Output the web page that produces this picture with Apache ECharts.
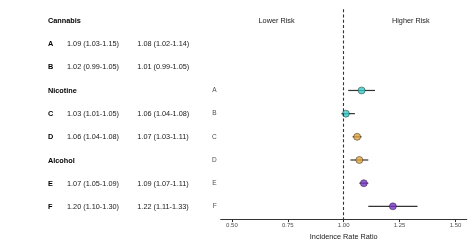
<!DOCTYPE html>
<html><head><meta charset="utf-8">
<script src="https://cdn.jsdelivr.net/npm/echarts@6/dist/echarts.min.js"></script>
<style>html,body{margin:0;padding:0;background:#fff}#c{width:474px;height:245px}</style>
</head><body><div id="c"></div>
<script>
const substances = ['Cannabis','Nicotine','Alcohol'];
const outcomes = ['A','B','C','D','E','F'];
const outcomeSubstance = ['Cannabis','Cannabis','Nicotine','Nicotine','Alcohol','Alcohol'];
const irr1 = [1.09,1.02,1.03,1.06,1.07,1.20];
const lo1  = [1.03,0.99,1.01,1.04,1.05,1.10];
const hi1  = [1.15,1.05,1.05,1.08,1.09,1.30];
const irr2 = [1.08,1.01,1.06,1.07,1.09,1.22];
const lo2  = [1.02,0.99,1.04,1.03,1.07,1.11];
const hi2  = [1.14,1.05,1.08,1.11,1.11,1.33];
const xTicks = [0.5,0.75,1.0,1.25,1.5];
const riskLabels = ['Lower Risk','Higher Risk'];
const riskX = [0.7,1.3];
const substanceColors = {Cannabis:'#34CBC4', Nicotine:'#E2A23A', Alcohol:'#7432C6'};

const FONT = 'Liberation Sans, Arial, sans-serif';
const fmt = v => v.toFixed(2);

const tableRows = [];
substances.forEach(s => {
  tableRows.push({type:'header', text:s});
  outcomes.forEach((o,i) => {
    if (outcomeSubstance[i] === s) tableRows.push({type:'row', letter:o,
      c1: fmt(irr1[i]) + ' (' + fmt(lo1[i]) + '-' + fmt(hi1[i]) + ')',
      c2: fmt(irr2[i]) + ' (' + fmt(lo2[i]) + '-' + fmt(hi2[i]) + ')'});
  });
});
const plotRowOffset = tableRows.length - outcomes.length;
const plotRow = outcomes.map((o,i) => i + 1 + plotRowOffset);

const chart = echarts.init(document.getElementById('c'), null, {renderer:'canvas'});
chart.setOption({
  animation:false,
  textStyle:{fontFamily:FONT},
  grid:[
    {left:0, width:210, top:9.35, bottom:25.2},
    {left:220.7, right:7.3, top:9.35, bottom:25.2}
  ],
  xAxis:[
    {gridIndex:0, type:'value', min:0, max:1, show:false},
    {gridIndex:1, type:'value', min:0.45, max:1.55,
     axisLine:{show:true, onZero:false, lineStyle:{color:'#333', width:1.1}},
     axisTick:{show:true, customValues:xTicks, length:3, lineStyle:{color:'#333'}},
     axisLabel:{customValues:xTicks, formatter:v=>v.toFixed(2), fontSize:6, color:'#4d4d4d', margin:3, fontFamily:FONT},
     splitLine:{show:false},
     name:'Incidence Rate Ratio', nameLocation:'middle', nameGap:12.5,
     nameTextStyle:{fontSize:7.3, color:'#1a1a1a', fontFamily:FONT}}
  ],
  yAxis:[
    {gridIndex:0, type:'value', inverse:true, min:0.5, max:9.55, show:false},
    {gridIndex:1, type:'value', inverse:true, min:0.5, max:9.55,
     axisLine:{show:false}, axisTick:{show:false}, splitLine:{show:false},
     axisLabel:{customValues:plotRow, formatter:v=>outcomes[plotRow.indexOf(Math.round(v))] || '',
       fontSize:6.5, color:'#4d4d4d', margin:4, fontFamily:FONT}}
  ],
  series:[
    {type:'custom', xAxisIndex:0, yAxisIndex:0, clip:false,
     data: tableRows.map((r,i)=>[0.5, i+1]),
     renderItem:(params, api)=>{
       const r = tableRows[params.dataIndex];
       const y = api.coord([0, api.value(1)])[1];
       const base = {fontFamily:FONT, fontSize:7.3, fill:'#000', verticalAlign:'middle', align:'left'};
       if (r.type==='header') {
         return {type:'text', style:Object.assign({}, base, {x:48, y:y, text:r.text, fontWeight:'bold'})};
       }
       return {type:'group', children:[
         {type:'text', style:Object.assign({}, base, {x:48, y:y, text:r.letter, fontWeight:'bold'})},
         {type:'text', style:Object.assign({}, base, {x:67, y:y, text:r.c1, fill:'#1a1a1a'})},
         {type:'text', style:Object.assign({}, base, {x:137.3, y:y, text:r.c2, fill:'#1a1a1a'})}
       ]};
     }},
    {type:'custom', xAxisIndex:1, yAxisIndex:1, clip:false,
     data: outcomes.map((o,i)=>[lo2[i], hi2[i], plotRow[i]]),
     renderItem:(params, api)=>{
       const p1 = api.coord([api.value(0), api.value(2)]);
       const p2 = api.coord([api.value(1), api.value(2)]);
       return {type:'line', shape:{x1:p1[0], y1:p1[1], x2:p2[0], y2:p2[1]},
               style:{stroke:'#333', lineWidth:1.2}};
     },
     markLine:{silent:true, symbol:'none', label:{show:false},
       lineStyle:{color:'#333', type:[3,2.2], width:1.1},
       data:[{xAxis:1}]}
    },
    {type:'scatter', xAxisIndex:1, yAxisIndex:1, symbolSize:7,
     data: outcomes.map((o,i)=>({value:[irr2[i], plotRow[i]],
       itemStyle:{color:substanceColors[outcomeSubstance[i]], borderColor:'#222', borderWidth:0.6}}))},
    {type:'custom', xAxisIndex:1, yAxisIndex:1, clip:false,
     data: riskLabels.map((t,i)=>[riskX[i], 1]),
     renderItem:(params, api)=>{
       const p = api.coord([api.value(0), api.value(1)]);
       return {type:'text', style:{x:p[0], y:p[1], text:riskLabels[params.dataIndex],
         fontFamily:FONT, fontSize:7.3, fill:'#1a1a1a', align:'center', verticalAlign:'middle'}};
     }}
  ]
});
</script></body></html>
